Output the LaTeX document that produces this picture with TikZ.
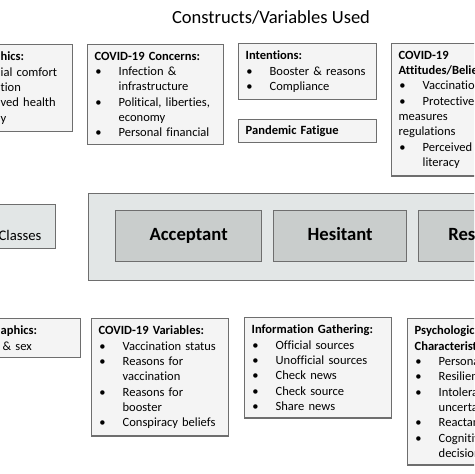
\documentclass[tikz,border=0pt]{standalone}
\usepackage{fontspec}
\setmainfont[Ligatures = NoCommon]{Carlito}

\definecolor{boxline}{HTML}{6E6E6E}
\definecolor{boxfill}{HTML}{F4F4F4}
\definecolor{classfill}{HTML}{E2E6E6}
\definecolor{groupfill}{HTML}{C9CDCC}

\newcommand{\bitem}[1]{\hspace*{0.5pt}\makebox[17.5pt][l]{\textbullet}#1}
\newcommand{\bcont}[1]{\hspace*{18pt}#1}

\begin{document}
\begin{tikzpicture}[x = 0.75pt, y = -0.75pt,
	every node/.style = {font = \fontsize{9.4}{11.5}\selectfont},
	infobox/.style = {draw = boxline, fill = boxfill, line width = 1pt, anchor = north west,
		align = left, inner xsep = 5.25pt, inner ysep = 5.5pt},
	classbox/.style = {draw = boxline, fill = classfill, line width = 1pt},
	groupbox/.style = {draw = boxline, fill = groupfill, line width = 1pt, anchor = north west,
		font = \fontsize{14}{16}\selectfont\bfseries, minimum height = 38.25pt,
		text height = 10pt, text depth = 3pt}]

	\useasboundingbox (0, 0) rectangle (474, 474);
	\clip (0, 0) rectangle (474, 474);

	% Title

	\node [font = \fontsize{13.9}{16}\selectfont] (title) at (271, 17) {Constructs/Variables Used};

	% Upper row of constructs

	\node [infobox, inner xsep = 7.5pt, text width = 46.5pt] (demo) at (-10, 44)
		{\textbf{hics:}\\ial comfort\\tion\\ved health\\y};

	\node [infobox, text width = 91.5pt] (concerns) at (87, 44)
		{\textbf{COVID-19 Concerns:}\\
		\bitem{Infection \&}\\\bcont{infrastructure}\\
		\bitem{Political, liberties,}\\\bcont{economy}\\
		\bitem{Personal financial}};

	\node [infobox, text width = 93pt] (intent) at (238, 43)
		{\textbf{Intentions:}\\
		\bitem{Booster \& reasons}\\
		\bitem{Compliance}};

	\node [infobox, text width = 93pt, inner ysep = 2pt, minimum height = 17.25pt] (fatigue) at (238, 119)
		{\textbf{Pandemic Fatigue}};

	\node [infobox, text width = 86pt] (attitudes) at (391, 43)
		{\textbf{COVID-19}\\\textbf{Attitudes/Beliefs:}\\
		\bitem{Vaccination}\\
		\bitem{Protective}\\measures\\regulations\\
		\bitem{Perceived}\\\bcont{literacy}};

	% Classes

	\node [classbox, anchor = north east, minimum height = 33pt, text width = 36pt,
		text height = 21pt, text depth = 0pt,
		inner xsep = 10.5pt, align = right, font = \fontsize{11}{13}\selectfont] (classes) at (56, 204) {Classes};

	\node [classbox, anchor = north west, minimum width = 309pt, minimum height = 65.25pt] (groups) at (88, 193) {};

	\node [groupbox, minimum width = 109.5pt] (accept) at (115, 210) {Acceptant};
	\node [groupbox, minimum width = 99.75pt] (hesit) at (273, 210) {Hesitant};
	\node [groupbox, minimum width = 97.5pt] (resist) at (418, 210) {Resistant};

	% Lower row of constructs

	\node [infobox, inner xsep = 7.5pt, text width = 52.5pt] (demob) at (-10, 318)
		{\textbf{aphics:}\\\hspace*{1.5pt}\& sex};

	\node [infobox, text width = 92.25pt] (variables) at (91, 318)
		{\textbf{COVID-19 Variables:}\\
		\bitem{Vaccination status}\\
		\bitem{Reasons for}\\\bcont{vaccination}\\
		\bitem{Reasons for}\\\bcont{booster}\\
		\bitem{Conspiracy beliefs}};

	\node [infobox, text width = 99.75pt] (info) at (244, 317)
		{\textbf{Information Gathering:}\\
		\bitem{Official sources}\\
		\bitem{Unofficial sources}\\
		\bitem{Check news}\\
		\bitem{Check source}\\
		\bitem{Share news}};

	\node [infobox, text width = 90pt] (psych) at (407, 318)
		{\textbf{Psychological}\\\textbf{Characteristics:}\\
		\bitem{Personality}\\
		\bitem{Resilience}\\
		\bitem{Intolerance of}\\\bcont{uncertainty}\\
		\bitem{Reactance}\\
		\bitem{Cognitive}\\\bcont{decision}};

\end{tikzpicture}
\end{document}
